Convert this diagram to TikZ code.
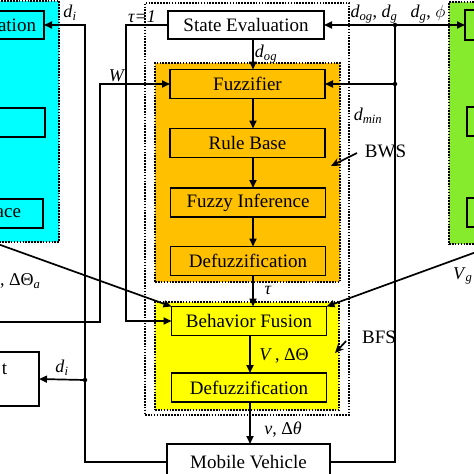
\documentclass[tikz,border=0pt]{standalone}
\usepackage{fontspec}
\setmainfont{Liberation Serif}
\usetikzlibrary{arrows.meta}
\definecolor{cyanfill}{RGB}{0,255,255}
\definecolor{orfill}{RGB}{255,192,0}
\definecolor{yefill}{RGB}{255,255,0}
\definecolor{grfill}{RGB}{135,235,45}
\newcommand{\sbs}[1]{\textsubscript{\textit{#1}}}
\begin{document}
\begin{tikzpicture}[x=1pt,y=-1pt,
  every node/.style={inner sep=0pt, outer sep=0pt},
  box/.style={draw, line width=1.7pt, minimum width=155pt, minimum height=29pt, font=\fontsize{19}{22}\selectfont},
  panel/.style={draw, line width=2pt, dash pattern=on 1.6pt off 1.3pt},
  conn/.style={line width=1.7pt},
  arr/.style={conn, -{Triangle[length=8pt,width=7pt]}},
  thinarr/.style={conn, -{Stealth[length=9pt,width=8pt]}},
  lbl/.style={font=\fontsize{18}{20}\selectfont},
  big/.style={font=\fontsize{19}{22}\selectfont},
  dot/.style={circle, fill, minimum size=4.5pt}
]
\clip (0,0) rectangle (474,474);
\useasboundingbox (0,0) rectangle (474,474);

% panels
\node[panel, fill=cyanfill, minimum width=80pt, minimum height=241pt] (cyanp) at (19,121.5) {};
\node[panel, fill=grfill, minimum width=51pt, minimum height=242pt] (greenp) at (474.5,123) {};
\node[panel, minimum width=204pt, minimum height=412pt] (outer) at (247,209) {};
\node[panel, fill=orfill, minimum width=185pt, minimum height=219pt] (bwsp) at (247.5,172.5) {};
\node[panel, fill=yefill, minimum width=184pt, minimum height=108pt] (bfsp) at (247,356) {};

% cyan boxes
\node[box, minimum width=64pt, minimum height=28pt] (c1) at (12,25) {};
\node[big, anchor=east] (c1t) at (36,25) {ation};
\node[box, minimum width=65pt, minimum height=29pt] (c2) at (12.5,122.5) {};
\node[box, minimum width=63pt, minimum height=29pt] (c3) at (11.5,213.5) {};
\node[big, anchor=east] (c3t) at (21,213) {ace};

% left bottom box
\node[box, fill=white, minimum width=59pt, minimum height=54pt] (lb) at (9.5,379) {};
\node[big] (lbt) at (4.5,369) {t};

% green boxes
\node[box, minimum width=30pt, minimum height=30pt] (g1) at (480,25) {};
\node[box, minimum width=30pt, minimum height=29pt] (g2) at (482,121.5) {};
\node[box, minimum width=30pt, minimum height=29pt] (g3) at (482,212.5) {};

% main boxes
\node[box, fill=white, minimum width=156pt, minimum height=28pt] (se) at (246,25) {State Evaluation};
\node[box] (fz) at (247.5,84) {Fuzzifier};
\node[box] (rb) at (247.5,143) {Rule Base};
\node[box] (fi) at (248,202.5) {Fuzzy Inference};
\node[box] (df1) at (248,261) {Defuzzification};
\node[box] (bf) at (249,321) {Behavior Fusion};
\node[box] (df2) at (249,387.5) {Defuzzification};
\node[box, fill=white, minimum width=163pt, minimum height=36pt] (mv) at (248.5,462) {Mobile Vehicle};

% coordinates
\coordinate (ltop) at (85,25);
\coordinate (lmid) at (85,380);
\coordinate (lbot) at (85,462);
\coordinate (wa) at (-5,322);
\coordinate (wb) at (100,322);
\coordinate (wc) at (100,84);
\coordinate (ta) at (126,25);
\coordinate (tb) at (126,321);
\coordinate (jtop) at (395,25);
\coordinate (jmid) at (395,84);
\coordinate (jbot) at (395,462);
\coordinate (dl) at (-12,240.5);
\coordinate (dr) at (490,247);
\coordinate (bwsA) at (331,166);
\coordinate (bfsA) at (335,353);

% vertical flow
\draw[arr] ([xshift=7pt]se.south) -- ([xshift=5.5pt]fz.north);
\draw[arr] ([xshift=5.5pt]fz.south) -- ([xshift=5.5pt]rb.north);
\draw[arr] ([xshift=5.5pt]rb.south) -- ([xshift=5pt]fi.north);
\draw[arr] ([xshift=5pt]fi.south) -- ([xshift=5pt]df1.north);
\draw[arr] ([xshift=5pt]df1.south) -- ([xshift=4pt]bf.north);
\draw[arr] ([xshift=1pt]bf.south) -- ([xshift=1pt]df2.north);
\draw[arr] ([xshift=1pt]df2.south) -- ([xshift=1.5pt]mv.north);

% left feedback
\draw[arr] (mv.west) -- (lbot) -- (ltop) -- (c1.east);
\draw[arr] (lmid) -- (lb.east);
\node[dot] (dotl) at (lmid) {};
\draw[arr] (wa) -- (wb) -- (wc) -- (fz.west);
\draw[arr] (se.west) -- (ta) -- (tb) -- (bf.west);

% right feedback
\draw[conn] (mv.east) -- (jbot) -- (jtop);
\draw[arr] (jtop) -- (se.east);
\draw[arr] (jtop) -- (g1.west);
\draw[arr] (jmid) -- (fz.east);
\node[dot] (dott) at (jtop) {};
\node[dot] (dotm) at (jmid) {};

% diagonals
\draw[arr] (dl) -- (bf.north west);
\draw[arr] (dr) -- (bf.north east);

% labels
\node[lbl] (ldog) at (266,54) {\textit{d}\sbs{og}};
\node[lbl] (ltau) at (268,290) {\textit{τ}};
\node[lbl] (lvt) at (284,356) {\textit{V}\,, ΔΘ};
\node[lbl] (lvs) at (283,430) {\textit{v}, Δ\textit{θ}};
\node[lbl] (ltau1) at (142,17) {\textit{τ=1}};
\node[lbl] (ldi1) at (70,13) {\textit{d}\sbs{i}};
\node[lbl] (ldi2) at (62,368) {\textit{d}\sbs{i}};
\node[lbl] (lW) at (117,76) {\textit{W}};
\node[lbl] (ldogdg) at (374,14) {\textit{d}\sbs{og}, \textit{d}\sbs{g}};
\node[lbl] (ldgphi) at (428,14) {\textit{d}\sbs{g}, $\phi$};
\node[lbl] (ldmin) at (368,116) {\textit{d}\sbs{min}};
\node[lbl, anchor=west] (lVg) at (453,276) {\textit{V}\sbs{g}};
\node[lbl, anchor=west] (lda) at (0,281) {, ΔΘ\sbs{a}};
\node[big] (bws) at (385.5,151) {BWS};
\node[big] (bfs) at (379,337) {BFS};
\draw[thinarr] ([shift={(-8,2)}]bws.west) -- (bwsA);
\draw[thinarr] ([shift={(-16,4)}]bfs.west) -- (bfsA);
\end{tikzpicture}
\end{document}
